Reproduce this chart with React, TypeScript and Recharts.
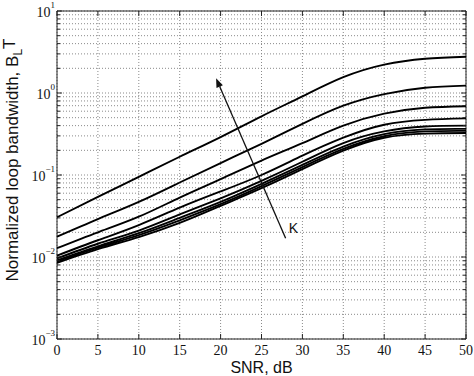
import React from "react";
import {
  LineChart,
  Line,
  XAxis,
  YAxis,
  CartesianGrid,
  ReferenceArea,
  ReferenceLine,
} from "recharts";

const SNR = [0, 5, 10, 15, 20, 25, 30, 35, 40, 45, 50];
const K1 = [0.0305, 0.054, 0.095, 0.167, 0.29, 0.52, 0.91, 1.56, 2.22, 2.62, 2.77];
const K2 = [0.0177, 0.029, 0.047, 0.081, 0.14, 0.24, 0.42, 0.7, 0.97, 1.16, 1.23];
const K3 = [0.0128, 0.02, 0.031, 0.053, 0.089, 0.15, 0.245, 0.4, 0.56, 0.66, 0.69];
const K4 = [0.0104, 0.016, 0.0245, 0.04, 0.063, 0.1, 0.172, 0.285, 0.41, 0.47, 0.49];
const K5 = [0.0096, 0.0145, 0.021, 0.033, 0.052, 0.085, 0.145, 0.245, 0.34, 0.39, 0.4];
const K6 = [0.0091, 0.0135, 0.0195, 0.03, 0.047, 0.078, 0.133, 0.222, 0.315, 0.36, 0.365];
const K7 = [0.0088, 0.013, 0.0185, 0.028, 0.044, 0.073, 0.125, 0.208, 0.297, 0.34, 0.345];
const K8 = [0.0085, 0.0125, 0.0175, 0.026, 0.042, 0.069, 0.118, 0.198, 0.285, 0.32, 0.325];
const SERIES = [K1, K2, K3, K4, K5, K6, K7, K8];

const X_TICKS = [0, 5, 10, 15, 20, 25, 30, 35, 40, 45, 50];
const DECADES = [-3, -2, -1, 0, 1];
const Y_TICKS: number[] = [];
DECADES.forEach((d) => {
  if (d === 1) {
    Y_TICKS.push(10);
  } else {
    for (let m = 1; m <= 9; m++) Y_TICKS.push(+(m * Math.pow(10, d)).toPrecision(6));
  }
});

const ARROW_TAIL = { x: 27.95, y: 0.0169 };
const ARROW_HEAD = { x: 19.45, y: 1.51 };
const ARROW_LABEL = "K";

const data = SNR.map((s, i) => {
  const row: Record<string, number> = { snr: s };
  SERIES.forEach((arr, j) => {
    row["k" + (j + 1)] = arr[i];
  });
  return row;
});

const PLOT_L = 57;
const PLOT_R = 466;
const PLOT_T = 11;
const PLOT_B = 339;

const serif = "'Liberation Serif', 'Times New Roman', serif";
const sans = "'Liberation Sans', Arial, Helvetica, sans-serif";

const XTick = (props: any) => {
  const { x, payload } = props;
  return (
    <g>
      <line x1={x} x2={x} y1={PLOT_B} y2={PLOT_B - 5} stroke="#222" />
      <line x1={x} x2={x} y1={PLOT_T} y2={PLOT_T + 5} stroke="#222" />
      <text x={x} y={355} textAnchor="middle" fontFamily={serif} fontSize={14} fill="#111">
        {payload.value}
      </text>
    </g>
  );
};

const YTick = (props: any) => {
  const { y, payload } = props;
  const v = payload.value as number;
  const lg = Math.log10(v);
  const major = Math.abs(lg - Math.round(lg)) < 1e-6;
  const len = major ? 5 : 3;
  return (
    <g>
      <line x1={PLOT_L} x2={PLOT_L + len} y1={y} y2={y} stroke="#222" />
      <line x1={PLOT_R} x2={PLOT_R - len} y1={y} y2={y} stroke="#222" />
      {major ? (
        <text x={55} y={y + 6} textAnchor="end" fontFamily={serif} fontSize={14} fill="#111">
          <tspan>10</tspan>
          <tspan dy={-9} fontSize={9}>
            {Math.round(lg) < 0 ? "\u2212" + Math.abs(Math.round(lg)) : String(Math.round(lg))}
          </tspan>
        </text>
      ) : null}
    </g>
  );
};

const ArrowShape = (props: any) => {
  const { x1, y1, x2, y2 } = props;
  const ang = Math.atan2(y2 - y1, x2 - x1);
  const L = 9;
  const W = 3.5;
  const bx = x2 - L * Math.cos(ang);
  const by = y2 - L * Math.sin(ang);
  const px = -Math.sin(ang);
  const py = Math.cos(ang);
  const pts = `${x2},${y2} ${bx + W * px},${by + W * py} ${bx - W * px},${by - W * py}`;
  return (
    <g>
      <line x1={x1} y1={y1} x2={bx} y2={by} stroke="#111" strokeWidth={1.3} />
      <polygon points={pts} fill="#111" />
      <text x={x1 + 3} y={y1 - 5} fontFamily={sans} fontSize={14} fill="#111">
        {ARROW_LABEL}
      </text>
    </g>
  );
};

export default function App() {
  return (
    <div style={{ position: "absolute", left: 0, top: 0, width: 474, height: 376, background: "#fff" }}>
      <LineChart
        width={474}
        height={376}
        data={data}
        margin={{ top: PLOT_T, right: 474 - PLOT_R, bottom: 0, left: 0 }}
      >
        <CartesianGrid stroke="#8a8a8a" strokeDasharray="1 2" />
        <XAxis
          dataKey="snr"
          type="number"
          domain={[0, 50]}
          ticks={X_TICKS}
          height={376 - PLOT_B}
          axisLine={false}
          tickLine={false}
          tick={<XTick />}
          interval={0}
          label={{
            content: () => (
              <text x={(PLOT_L + PLOT_R) / 2} y={373} textAnchor="middle" fontFamily={sans} fontSize={16} fill="#111">
                SNR, dB
              </text>
            ),
          }}
        />
        <YAxis
          type="number"
          scale="log"
          domain={[0.001, 10]}
          allowDataOverflow
          ticks={Y_TICKS}
          width={PLOT_L}
          axisLine={false}
          tickLine={false}
          tick={<YTick />}
          interval={0}
          label={{
            content: () => (
              <text
                x={0}
                y={0}
                transform="translate(18,160) rotate(-90)"
                textAnchor="middle"
                fontFamily={sans}
                fontSize={17}
                fill="#111"
              >
                Normalized loop bandwidth, B
                <tspan dy={4} fontSize={12}>L</tspan>
                <tspan dy={-7}>T</tspan>
              </text>
            ),
          }}
        />
        {SERIES.map((_, j) => (
          <Line
            key={j}
            dataKey={"k" + (j + 1)}
            type="natural"
            stroke="#000"
            strokeWidth={1.9}
            dot={false}
            isAnimationActive={false}
          />
        ))}
        <ReferenceLine
          segment={[ARROW_TAIL, ARROW_HEAD]}
          shape={(p: any) => <ArrowShape {...p} />}
          ifOverflow="visible"
        />
        <ReferenceArea x1={0} x2={50} y1={0.001} y2={10} fill="none" stroke="#222" strokeWidth={1} ifOverflow="visible" />
      </LineChart>
    </div>
  );
}
